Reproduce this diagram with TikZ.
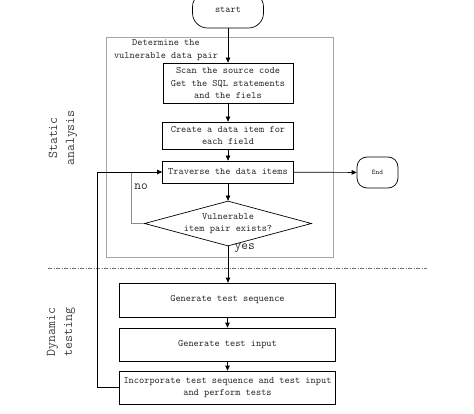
\documentclass[tikz,border=0pt]{standalone}
\usepackage{tikz}
\usetikzlibrary{arrows.meta,positioning,shapes.geometric}
\newcommand{\flowfont}{\fontsize{9.9}{12.5}\selectfont\ttfamily}
\newcommand{\sidefont}{\fontsize{13.5}{17}\selectfont\ttfamily}

\begin{document}
\begin{tikzpicture}[
  x=1pt,y=-1pt,
  box/.style={draw,line width=0.7pt,align=center,font=\flowfont,text=black!85,inner sep=1pt},
  term/.style={box,rounded corners=14pt},
  decide/.style={box,diamond,aspect=3.7,inner xsep=-9pt,inner ysep=0pt},
  arr/.style={-{Triangle[length=5pt,width=4.5pt]},line width=0.7pt},
  noline/.style={draw=black!45,line width=0.7pt},
  side/.style={font=\sidefont,text=black!75,align=center,rotate=90},
  tag/.style={font=\fontsize{13}{14}\selectfont\ttfamily,text=black!85,inner sep=1pt}
]
\useasboundingbox (0,0) rectangle (474,414);
% static analysis part
\node[draw=black!35,line width=0.8pt,minimum width=227pt,minimum height=220pt,inner sep=0pt] (pairbox) at (219.5,147) {};
\node[font=\flowfont,text=black!85,align=center,inner sep=0pt] (pairlbl) at (166,50) {Determine the\\vulnerable data pair};
\node[term,minimum width=71pt,minimum height=36pt,rounded corners=15pt] (start) at (228,10) {start};
\node[box,minimum width=130pt,minimum height=40pt] (scan) at (228,83) {Scan the source code\\Get the SQL statements\\and the fiels};
\node[box,minimum width=131pt,minimum height=27pt] (create) at (228,135.5) {Create a data item for\\each field};
\node[box,minimum width=131pt,minimum height=22pt] (trav) at (228,172) {Traverse the data items};
\node[term,rounded corners=10pt,minimum width=41pt,minimum height=31pt,font=\fontsize{7}{8}\selectfont\ttfamily] (fin) at (377.5,172.5) {End};
\node[decide,minimum width=167pt,minimum height=45pt] (vul) at (228,223.5) {Vulnerable\\item pair exists?};
\draw[arr] (start) -- (scan);
\draw[arr] (scan) -- (create);
\draw[arr] (create) -- (trav);
\draw[arr] (trav) -- (vul);
\draw[arr] (trav) -- (fin);
\coordinate (nojoin) at (131,172);
\draw[noline] (vul.west) -| (nojoin);
\node[tag] (nolbl) at (141,187) {no};
% separator
\coordinate (sepL) at (48,268);
\coordinate (sepR) at (427,268);
\draw[black!55,line width=0.8pt,dash pattern=on 4pt off 1.5pt on 1pt off 1.5pt] (sepL) -- (sepR);
% dynamic testing part
\node[box,minimum width=216pt,minimum height=34pt] (gseq) at (227.5,300) {Generate test sequence};
\node[box,minimum width=216pt,minimum height=33pt] (ginp) at (227.5,344.5) {Generate test input};
\node[box,minimum width=216pt,minimum height=33pt] (incorp) at (227.5,387.5) {Incorporate test sequence and test input\\and perform tests};
\draw[arr] (vul) -- (vul|-gseq.north);
\node[tag,anchor=north west] (yeslbl) at (233.5,243) {yes};
\draw[arr] (gseq) -- (ginp);
\draw[arr] (ginp) -- (incorp);
\coordinate (loopx) at (97,387.5);
\draw[arr] (incorp.west) -- (loopx) |- (trav.west);
% side labels
\node[side] (stlbl) at (63,138) {Static\\analysis};
\node[side] (dylbl) at (61,332) {Dynamic\\testing};
\end{tikzpicture}
\end{document}
